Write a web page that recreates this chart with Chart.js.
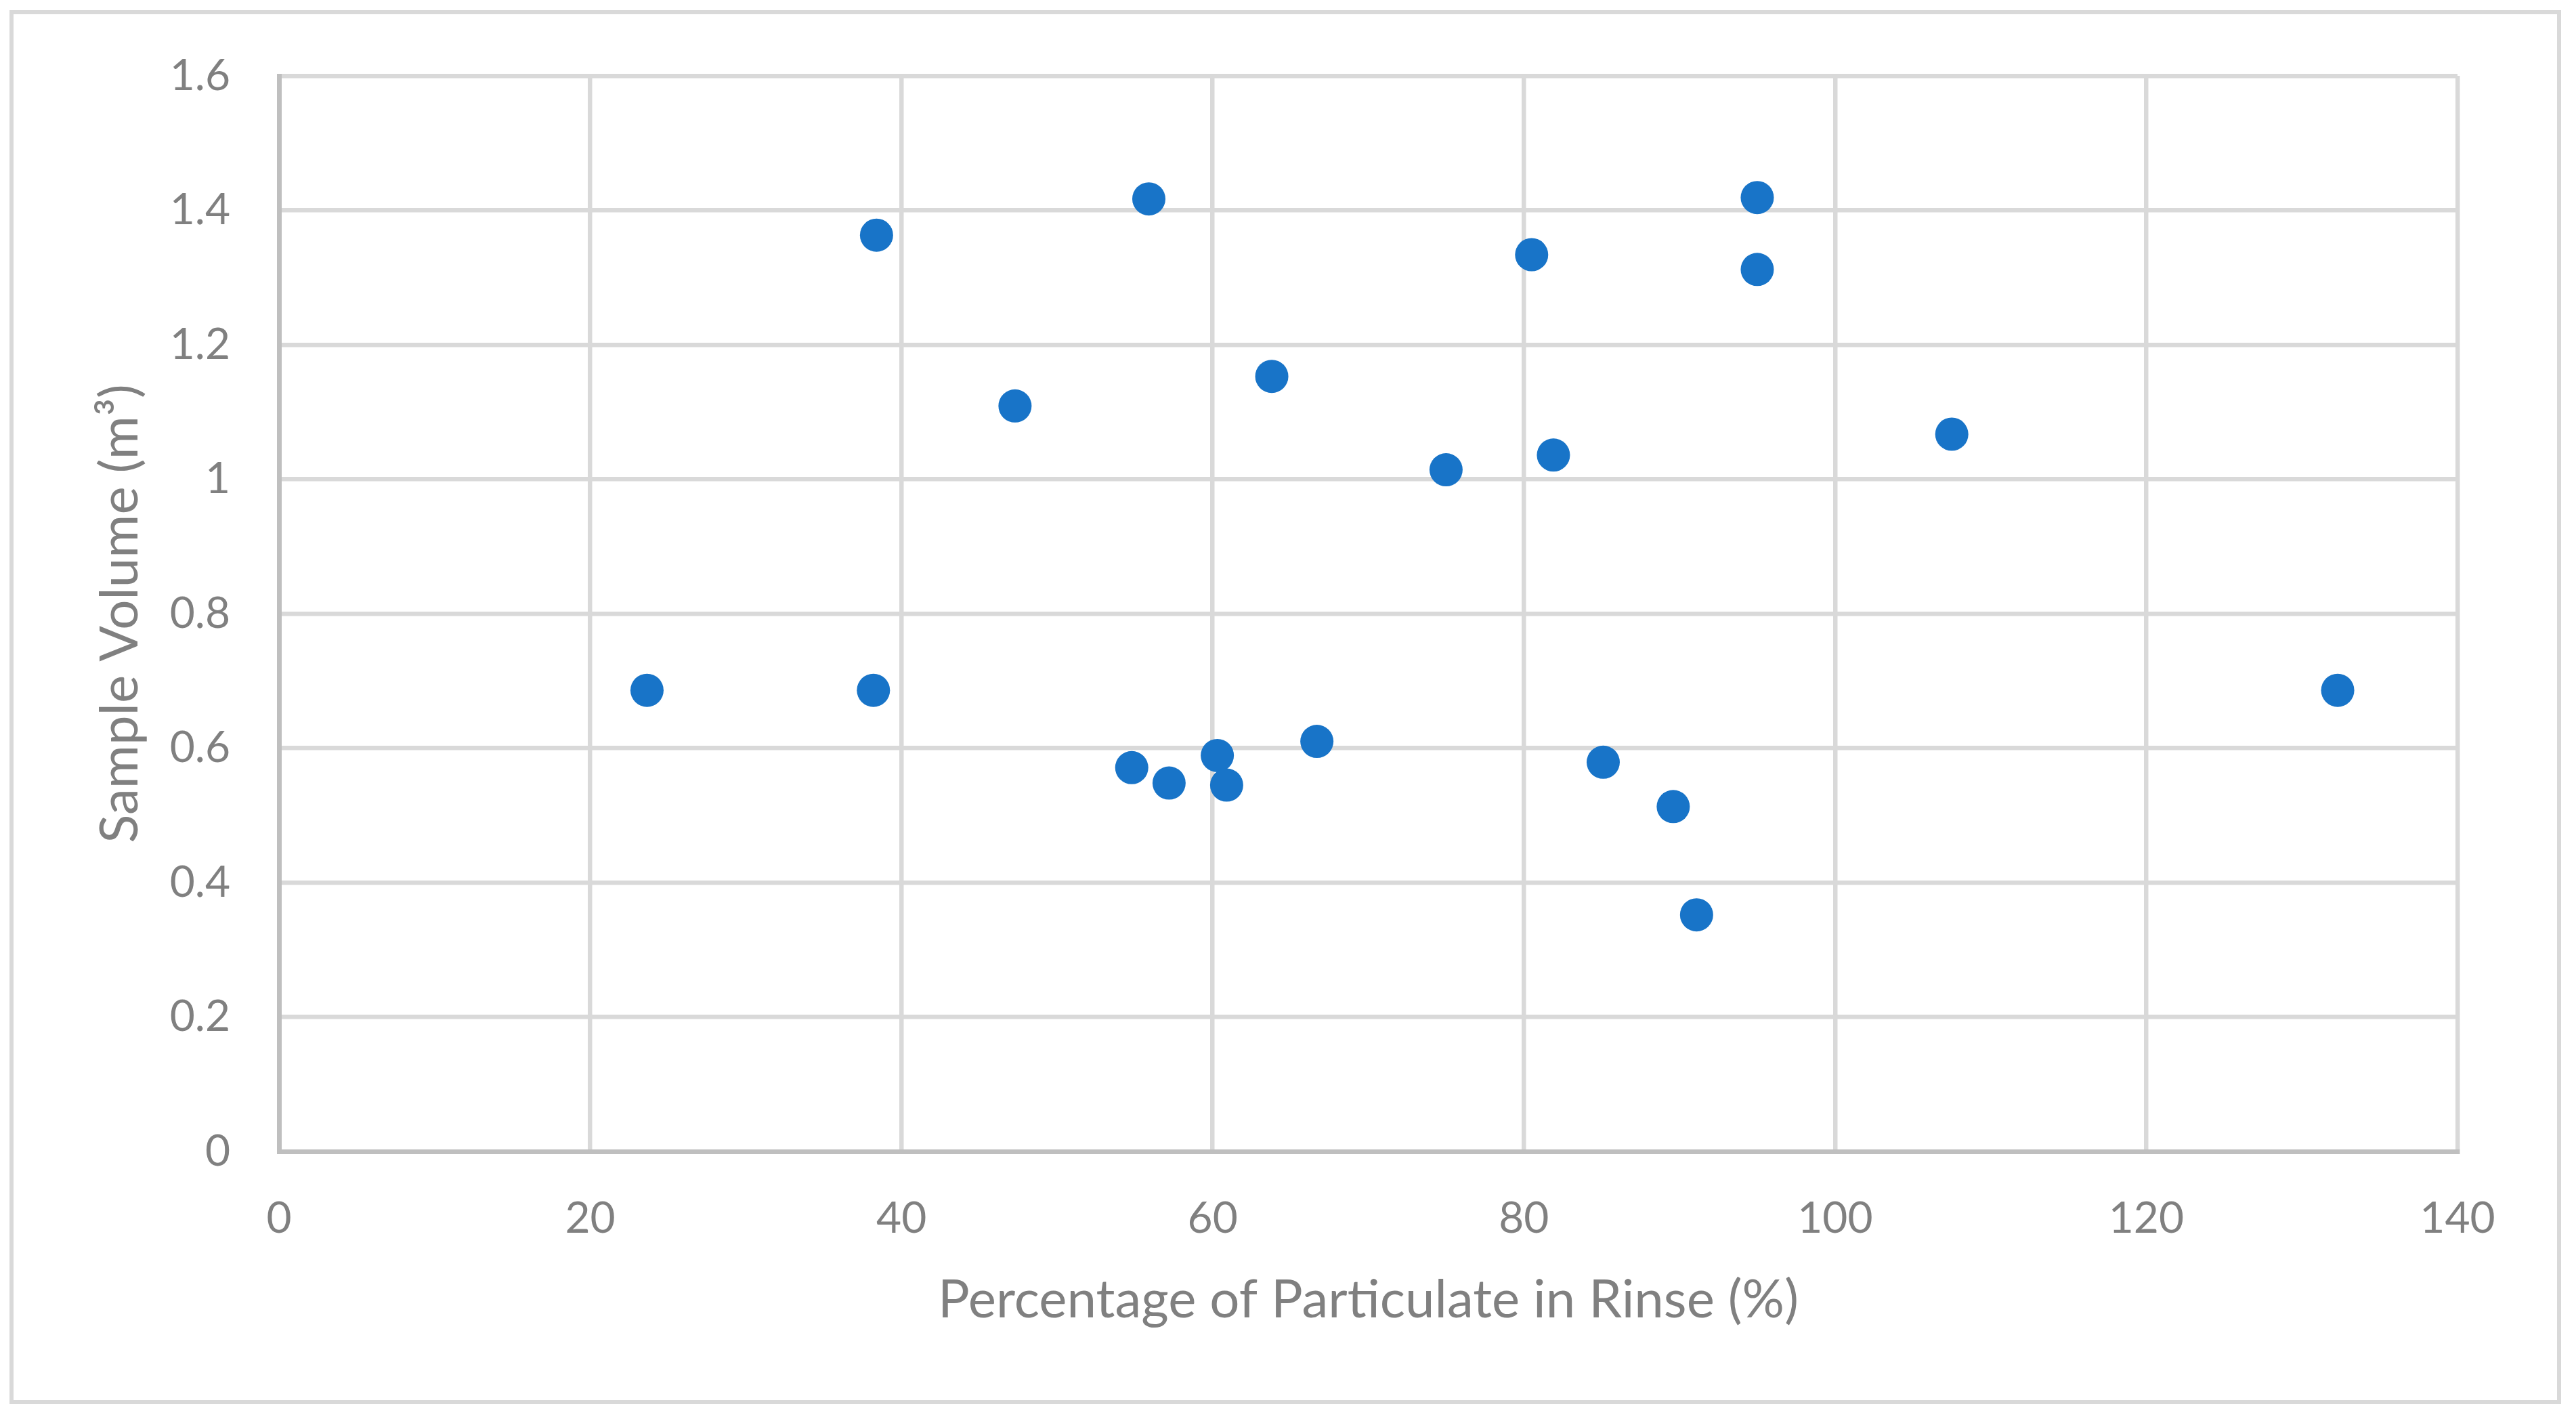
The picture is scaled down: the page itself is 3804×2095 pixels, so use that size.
<!DOCTYPE html>
<html>
<head>
<meta charset="utf-8">
<script src="https://cdn.jsdelivr.net/npm/chart.js@4/dist/chart.umd.min.js"></script>
<style>
  html, body { margin: 0; padding: 0; background: #fff; }
  #frame {
    position: absolute; left: 14px; top: 15px; width: 3768px; height: 2058px;
    box-sizing: border-box; border: 6px solid #d9d9d9; pointer-events: none;
  }
  #myChart { position: absolute; left: 0; top: 0; }
</style>
</head>
<body>
<canvas id="myChart" width="3804" height="2095"></canvas>
<div id="frame"></div>
<script>
// percentage of particulate in rinse (%)
var rinsePct = [23.65, 38.2, 38.4, 47.3, 55.9, 54.8, 57.2, 60.3, 60.9, 63.8, 66.7,
                75.0, 80.5, 81.9, 85.1, 89.6, 91.1, 95.0, 95.0, 107.5, 132.3];
// sample volume (m3)
var sampleVol = [0.686, 0.686, 1.363, 1.109, 1.417, 0.571, 0.548, 0.589, 0.545, 1.153, 0.610,
                 1.014, 1.334, 1.036, 0.579, 0.513, 0.352, 1.419, 1.312, 1.067, 0.686];

var xTickLabels = ['0', '20', '40', '60', '80', '100', '120', '140'];
var yTickLabels = ['0', '0.2', '0.4', '0.6', '0.8', '1', '1.2', '1.4', '1.6'];

var points = rinsePct.map(function (x, i) { return { x: x, y: sampleVol[i] }; });

var grey = '#808080';

var ctx = document.getElementById('myChart').getContext('2d');
var myChart = new Chart(ctx, {
  type: 'scatter',
  data: {
    datasets: [{
      label: 'Sample Volume',
      data: points,
      backgroundColor: '#1874c8',
      borderColor: '#1874c8',
      borderWidth: 0,
      pointRadius: 24.5,
      pointHoverRadius: 24.5
    }]
  },
  options: {
    responsive: false,
    animation: false,
    devicePixelRatio: 1,
    layout: { padding: { top: 112, right: 175, left: 0, bottom: 0 } },
    plugins: {
      legend: { display: false },
      tooltip: { enabled: false }
    },
    scales: {
      x: {
        type: 'linear',
        min: 0,
        max: 140,
        afterFit: function (scale) { scale.height = 395; },
        ticks: {
          stepSize: 20,
          color: grey,
          padding: 61,
          font: { family: 'Lato', size: 64 },
          callback: function (v, i) { return xTickLabels[i]; }
        },
        grid: { color: '#d9d9d9', lineWidth: 6.5, drawTicks: false },
        border: { color: '#bfbfbf', width: 7 },
        title: {
          display: true,
          text: 'Percentage of Particulate in Rinse (%)',
          color: grey,
          font: { family: 'Lato', size: 78 },
          padding: { top: 0, bottom: 128 }
        }
      },
      y: {
        type: 'linear',
        min: 0,
        max: 1.6,
        afterFit: function (scale) { scale.width = 412; },
        ticks: {
          stepSize: 0.2,
          color: grey,
          padding: 72,
          font: { family: 'Lato', size: 64 },
          callback: function (v, i) { return yTickLabels[i]; }
        },
        grid: { color: '#d9d9d9', lineWidth: 6.5, drawTicks: false },
        border: { color: '#bfbfbf', width: 7 },
        title: {
          display: true,
          text: 'Sample Volume (m³)',
          color: grey,
          font: { family: 'Lato', size: 78 },
          padding: { top: 131, bottom: 0 }
        }
      }
    }
  }
});
</script>
</body>
</html>
